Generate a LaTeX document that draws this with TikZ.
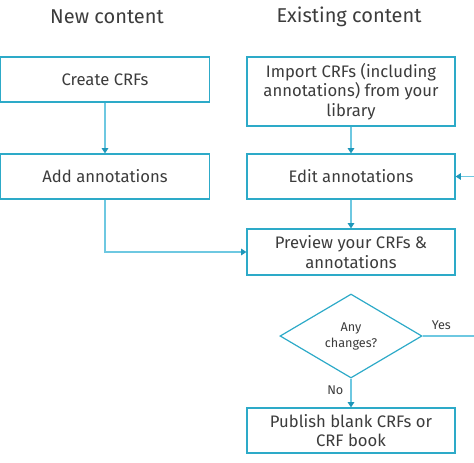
\documentclass[tikz,border=0pt]{standalone}
\usepackage{fontspec}
\setmainfont{Fira Sans}
\usetikzlibrary{shapes.geometric, arrows.meta}

\definecolor{boxline}{RGB}{45,170,200}
\definecolor{flowline}{RGB}{110,200,225}
\definecolor{tipcol}{RGB}{30,150,185}
\definecolor{txt}{RGB}{60,60,60}

\begin{document}
\begin{tikzpicture}[x=0.75pt, y=-0.75pt,
    stepbox/.style={draw=boxline, line width=0.9pt, text=txt, align=center,
        minimum width=156pt, minimum height=33.75pt, inner sep=2pt,
        font=\fontsize{12.5}{14.5}\selectfont},
    decide/.style={diamond, draw=boxline, line width=0.9pt, text=txt, align=center,
        aspect=1.7, inner sep=0pt, minimum width=106.5pt, minimum height=63pt,
        font=\fontsize{9.5}{12}\selectfont},
    heading/.style={text=txt, font=\fontsize{15}{18}\selectfont},
    flow/.style={draw=flowline, line width=0.8pt,
        -{Triangle[length=4pt, width=5pt, color=tipcol]}},
    tag/.style={text=txt, font=\fontsize{9.5}{12}\selectfont}]
    \useasboundingbox (0,0) rectangle (474,462);
    \clip (0,0) rectangle (474,462);

    % Column headings
    \node[heading] (newhead) at (107,17) {New content};
    \node[heading] (oldhead) at (349,17) {Existing content};

    % New content column
    \node[stepbox, minimum width=156.75pt] (create) at (105,79.5) {Create CRFs};
    \node[stepbox, minimum width=156.75pt] (add) at (105,176.5) {Add annotations};

    % Existing content column
    \node[stepbox, minimum height=51.75pt] (import) at (351,91.5)
        {Import CRFs (including\\annotations) from your\\library};
    \node[stepbox] (edit) at (351,176.5) {Edit annotations};
    \node[stepbox, minimum height=34.5pt] (preview) at (351,252)
        {Preview your CRFs \&\\annotations};
    \node[decide] (changes) at (351,336) {Any\\changes?};
    \node[stepbox] (publish) at (351,430.5) {Publish blank CRFs or\\CRF book};

    % Connectors
    \draw[flow] (create) -- (add);
    \draw[flow] (import) -- (edit);
    \draw[flow] (edit) -- (preview);
    \draw[flow] (add.south) |- (preview.west);
    \draw[flow] (changes) -- (publish) node[tag, pos=0.4, left=2pt] {No};
    \draw[flow] (changes.east) -- (485,336) node[tag, pos=0.3, above=1pt] {Yes}
        -- (485,176.5) -- (edit.east);
\end{tikzpicture}
\end{document}
